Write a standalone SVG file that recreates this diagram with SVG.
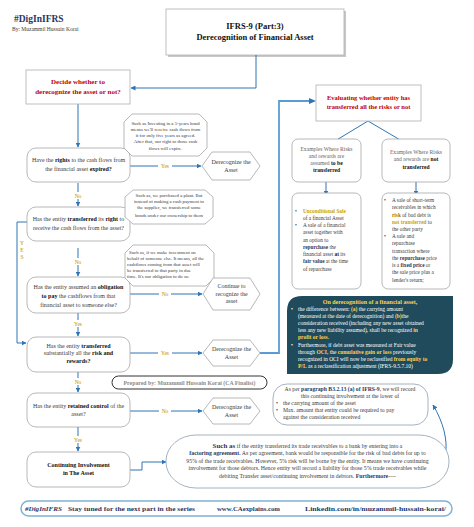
<svg xmlns="http://www.w3.org/2000/svg" width="474" height="527" viewBox="0 0 474 527">
<style>
text{font-family:"Liberation Serif","DejaVu Serif",serif;fill:#3a3a3a}
.b{font-weight:bold;fill:#111}
.q{font-size:6px;text-anchor:middle}
.n{font-size:4.8px;text-anchor:middle}
.box{fill:#fff;stroke:#a6a6a6;stroke-width:0.8}
.sq{fill:#fff;stroke:#b0b0b0;stroke-width:0.8}
.con{fill:none;stroke:#2e75b6;stroke-width:1}
.big{fill:none;stroke:#5b9bd5;stroke-width:1.8}
.lbl{font-size:5.5px;text-anchor:middle;fill:#bf9000}
.red{fill:#c00000;font-weight:bold;text-anchor:middle;font-size:7px}
.li{font-size:5.3px}
.db{fill:#1e3a5f;font-weight:bold}
.yl{fill:#c9a400;font-weight:bold}
.w{font-size:5.5px;fill:#fff}
.wy{fill:#ffd24d;font-weight:bold}
.wb{fill:#9fd3ff;font-weight:bold}
.ft{font-size:6.4px;font-weight:bold;fill:#1f3864}
</style>
<defs>
<marker id="ah" viewBox="0 0 10 10" refX="9" refY="5" markerWidth="5" markerHeight="5" orient="auto"><path d="M0,0 L10,5 L0,10 z" fill="#2e75b6"/></marker>
</defs>
<rect width="474" height="527" fill="#fff"/>

<g id="header">
<text x="14" y="22" style="font-size:9.5px;font-weight:bold;fill:#1f3864">#DigInIFRS</text>
<text x="12" y="31" style="font-size:5.5px">By: Muzammil Hussain Korai</text>
</g>

<g id="title">
<rect x="168" y="11" width="178" height="46" fill="#c8c8c8"/>
<rect x="166" y="9" width="178" height="46" class="sq"/>
<text x="255" y="29" class="b" style="font-size:8.5px;text-anchor:middle">IFRS-9 (Part:3)</text>
<text x="255" y="40" class="b" style="font-size:8.5px;text-anchor:middle">Derecognition of Financial Asset</text>
</g>

<g id="connectors">
<path class="con" d="M256 55 V88 H131" marker-end="url(#ah)"/>
<path class="con" d="M78 104 V147" marker-end="url(#ah)"/>
<path class="con" d="M130 166 H201" marker-end="url(#ah)"/>
<path class="con" d="M78 183 V206" marker-end="url(#ah)"/>
<path class="con" d="M27 222 H17 V343 H26" marker-end="url(#ah)"/>
<path class="con" d="M78 248 V276" marker-end="url(#ah)"/>
<path class="con" d="M130 294 H202" marker-end="url(#ah)"/>
<path class="con" d="M78 313 V336" marker-end="url(#ah)"/>
<path class="con" d="M130 353 H202" marker-end="url(#ah)"/>
<path class="con" d="M78 372 V392" marker-end="url(#ah)"/>
<path class="con" d="M130 411 H202" marker-end="url(#ah)"/>
<path class="con" d="M78 427 V451" marker-end="url(#ah)"/>
<path class="con" d="M130 470 H142 V462 H166" marker-end="url(#ah)"/>
<path class="big" d="M260 353 H279 V101 H313"/>
<path d="M309 98 L316 101 L309 104 z" fill="#2e75b6"/>
<path class="con" d="M368 121 L330 144" marker-end="url(#ah)"/>
<path class="con" d="M368 121 L407 144" marker-end="url(#ah)"/>
<path class="con" d="M326 182 V195" marker-end="url(#ah)"/>
<path class="con" d="M416 182 V195" marker-end="url(#ah)"/>
<path class="con" d="M419 477 C450 476 454 440 433 405" marker-end="url(#ah)"/>
<rect x="158" y="162" width="14" height="7" fill="#fff"/>
<text x="165" y="168" class="lbl">Yes</text>
<rect x="72" y="192" width="12" height="7" fill="#fff"/>
<text x="78" y="198" class="lbl">No</text>
<text x="22" y="245" class="lbl">Y</text>
<text x="22" y="252" class="lbl">E</text>
<text x="22" y="259" class="lbl">S</text>
<rect x="72" y="258" width="12" height="7" fill="#fff"/>
<text x="78" y="264" class="lbl">No</text>
<rect x="159" y="290" width="12" height="7" fill="#fff"/>
<text x="165" y="296" class="lbl">No</text>
<rect x="71" y="320" width="14" height="7" fill="#fff"/>
<text x="78" y="326" class="lbl">Yes</text>
<rect x="158" y="349" width="14" height="7" fill="#fff"/>
<text x="165" y="355" class="lbl">Yes</text>
<rect x="72" y="378" width="12" height="7" fill="#fff"/>
<text x="78" y="384" class="lbl">No</text>
<rect x="159" y="407" width="12" height="7" fill="#fff"/>
<text x="165" y="413" class="lbl">No</text>
<rect x="71" y="436" width="14" height="7" fill="#fff"/>
<text x="78" y="442" class="lbl">Yes</text>
</g>

<g id="decide">
<rect x="26" y="70" width="104" height="34" class="sq"/>
<text x="78" y="84" class="red">Decide whether to</text>
<text x="78" y="94" class="red">derecognize the asset or not?</text>
</g>

<g id="q1">
<rect x="27" y="148" width="103" height="34" rx="9" class="box"/>
<text x="78.5" y="162" class="q">Have the <tspan class="b">rights</tspan> to the cash flows from</text>
<text x="78.5" y="171" class="q">the financial asset <tspan class="b">expired?</tspan></text>
</g>
<g id="note1">
<path class="box" d="M132 114 H199 L207 122 V148 L199 156 H132 L124 148 V122 Z"/>
<text x="165.5" y="125" class="n">Such as Investing in a 5-years bond</text>
<text x="165.5" y="131" class="n">means we'll receive cash flows from</text>
<text x="165.5" y="137" class="n">it for only five years as agreed.</text>
<text x="165.5" y="143" class="n">After that, our right to those cash</text>
<text x="165.5" y="150" class="n">flows will expire.</text>
</g>
<g id="d1">
<path class="box" d="M202 166 L212 152 H250 L260 166 L250 180 H212 Z"/>
<text x="231" y="164" class="q">Derecognize the</text>
<text x="231" y="172" class="q">Asset</text>
</g>

<g id="q2">
<rect x="27" y="207" width="103" height="34" rx="9" class="box"/>
<text x="78.5" y="221" class="q">Has the entity <tspan class="b">transferred</tspan> its <tspan class="b">right</tspan> to</text>
<text x="78.5" y="230" class="q">receive the cash flows from the asset?</text>
</g>
<g id="note2">
<path class="box" d="M133 190 H205 L213 197 V217 L205 224 H133 L125 217 V197 Z"/>
<text x="169" y="197" class="n">Such as, we purchased a plant. But</text>
<text x="169" y="203" class="n">instead of making a cash payment to</text>
<text x="169" y="209" class="n">the supplier, we transferred some</text>
<text x="169" y="217" class="n">bonds under our ownership to them</text>
</g>

<g id="q3">
<rect x="27" y="277" width="103" height="36" rx="9" class="box"/>
<text x="78.5" y="289" class="q">Has the entity assumed an <tspan class="b">obligation</tspan></text>
<text x="78.5" y="298" class="q"><tspan class="b">to pay</tspan> the cashflows from that</text>
<text x="78.5" y="307" class="q">financial asset to someone else?</text>
</g>
<g id="note3">
<path class="box" d="M133 245 H206 L214 253 V278 L206 286 H133 L125 278 V253 Z"/>
<text x="129" y="254" class="n" style="text-anchor:start">Such as, if we make investment on</text>
<text x="127" y="260" class="n" style="text-anchor:start">behalf of someone else. It means, all the</text>
<text x="127" y="266" class="n" style="text-anchor:start">cashflows coming from that asset will</text>
<text x="127" y="272" class="n" style="text-anchor:start">be transferred to that party in due</text>
<text x="127" y="278" class="n" style="text-anchor:start">time. It's our obligation to do so.</text>
</g>
<g id="c1">
<path class="box" d="M203 294 L213 278 H250 L260 294 L250 310 H213 Z"/>
<text x="231.5" y="288" class="q">Continue to</text>
<text x="231.5" y="295.5" class="q">recognize the</text>
<text x="231.5" y="303" class="q">asset</text>
</g>

<g id="q4">
<rect x="27" y="337" width="103" height="35" rx="9" class="box"/>
<text x="78.5" y="348" class="q">Has the entity <tspan class="b">transferred</tspan></text>
<text x="78.5" y="355" class="q">substantially all the <tspan class="b">risk and</tspan></text>
<text x="78.5" y="363" class="q"><tspan class="b">rewards?</tspan></text>
</g>
<g id="d3">
<path class="box" d="M203 353 L213 340 H250 L260 353 L250 366 H213 Z"/>
<text x="231.5" y="351" class="q">Derecognize the</text>
<text x="231.5" y="359" class="q">Asset</text>
</g>

<g id="prepared">
<rect x="112" y="376" width="155" height="13" rx="6.5" fill="#fff" stroke="#333" stroke-width="1"/>
<text x="189.5" y="385" style="font-size:5.8px;font-weight:bold;fill:#8a8a8a;text-anchor:middle">Prepared by: Muzammil Hussain Korai (CA Finalist)</text>
</g>

<g id="q5">
<rect x="27" y="393" width="103" height="34" rx="9" class="box"/>
<text x="78.5" y="408" class="q">Has the entity <tspan class="b">retained control</tspan> of the</text>
<text x="78.5" y="416" class="q">asset?</text>
</g>
<g id="d4">
<path class="box" d="M203 411 L213 398 H250 L260 411 L250 424 H213 Z"/>
<text x="231.5" y="409" class="q">Derecognize the</text>
<text x="231.5" y="417" class="q">Asset</text>
</g>

<g id="q6">
<rect x="27" y="452" width="103" height="35" rx="9" class="box"/>
<text x="78.5" y="467" class="q b">Continuing Involvement</text>
<text x="78.5" y="475" class="q b">in The Asset</text>
</g>

<g id="bubble">
<rect x="166" y="435" width="283" height="53" rx="30" ry="26" fill="#fff" stroke="#9aaab8" stroke-width="0.9"/>
<text x="307.5" y="448" style="font-size:5.8px;text-anchor:middle"><tspan class="db" style="font-size:7px">Such as</tspan> if the entity transferred its trade receivables to a bank by entering into a</text>
<text x="307.5" y="455" style="font-size:5.8px;text-anchor:middle"><tspan class="db">factoring agreement</tspan>. As per agreement, bank would be responsible for the risk of bad debts for up to</text>
<text x="307.5" y="463" style="font-size:5.8px;text-anchor:middle">95% of the trade receivables. However, 5% risk will be borne by the entity. It means we have continuing</text>
<text x="307.5" y="470" style="font-size:5.8px;text-anchor:middle">involvement for those debtors. Hence entity will record a liability for those 5% trade receivables while</text>
<text x="307.5" y="478" style="font-size:5.8px;text-anchor:middle">debiting Transfer asset/continuing involvement in debtors.      <tspan class="db">Furthermore</tspan>----</text>
</g>

<g id="asper">
<rect x="273" y="384" width="155" height="41" rx="14" fill="#fff" stroke="#9aaab8" stroke-width="0.9"/>
<text x="350" y="391" style="font-size:5.7px;text-anchor:middle">As per <tspan class="db">paragraph B3.2.13 (a) of IFRS-9</tspan>, we will record</text>
<text x="350" y="398" style="font-size:5.7px;text-anchor:middle">this continuing involvement at the lower of</text>
<text x="276" y="405" style="font-size:5.7px">•</text>
<text x="283" y="405" style="font-size:5.7px">the carrying amount of the asset</text>
<text x="276" y="412" style="font-size:5.7px">•</text>
<text x="283" y="412" style="font-size:5.7px">Max. amount that entity could be required to pay</text>
<text x="283" y="419" style="font-size:5.7px">against the consideration received</text>
</g>

<g id="evaluate">
<rect x="316" y="85" width="105" height="36" class="sq"/>
<text x="368.5" y="100" class="red" style="font-size:6.5px">Evaluating whether entity has</text>
<text x="368.5" y="109" class="red" style="font-size:6.5px">transferred all the risks or not</text>
</g>

<g id="ex1">
<rect x="292" y="139" width="69" height="43" rx="6" class="box"/>
<text x="326.5" y="151" class="q" style="font-size:5.6px;fill:#666">Examples Where Risks</text>
<text x="326.5" y="158" class="q" style="font-size:5.6px;fill:#666">and rewards are</text>
<text x="326.5" y="165" class="q" style="font-size:5.6px;fill:#666">assumed <tspan class="b">to be</tspan></text>
<text x="326.5" y="172" class="q b" style="font-size:5.6px">transferred</text>
</g>
<g id="ex2">
<rect x="382" y="139" width="68" height="43" rx="6" class="box"/>
<text x="416" y="154" class="q" style="font-size:5.6px;fill:#666">Examples Where Risks</text>
<text x="416" y="161" class="q" style="font-size:5.6px;fill:#666">and rewards are <tspan class="b">not</tspan></text>
<text x="416" y="169" class="q b" style="font-size:5.6px">transferred</text>
</g>

<g id="list1">
<rect x="292" y="193" width="69" height="96" rx="6" class="box"/>
<text x="295" y="213" class="li">•</text>
<text x="303" y="213" class="li yl">Unconditional Sale</text>
<text x="303" y="220" class="li">of a financial Asset</text>
<text x="295" y="227" class="li">•</text>
<text x="303" y="227" class="li">A sale of a financial</text>
<text x="303" y="234" class="li">asset together with</text>
<text x="303" y="242" class="li">an option to</text>
<text x="303" y="249" class="li"><tspan class="db">repurchase</tspan> the</text>
<text x="303" y="256" class="li">financial asset <tspan class="b">at</tspan> its</text>
<text x="303" y="263" class="li"><tspan class="db">fair value</tspan> at the time</text>
<text x="303" y="271" class="li">of repurchase</text>
</g>
<g id="list2">
<rect x="382" y="193" width="68" height="96" rx="6" class="box"/>
<text x="384" y="202" class="li">•</text>
<text x="392" y="202" class="li">A sale of short-term</text>
<text x="392" y="209" class="li">receivables in which</text>
<text x="392" y="217" class="li"><tspan class="yl" style="fill:#a07800">risk</tspan> of bad debt is</text>
<text x="392" y="224" class="li"><tspan class="yl">not transferred</tspan> to</text>
<text x="392" y="231" class="li">the other party</text>
<text x="384" y="238" class="li">•</text>
<text x="392" y="238" class="li">A sale and</text>
<text x="392" y="245" class="li">repurchase</text>
<text x="392" y="253" class="li">transaction where</text>
<text x="392" y="260" class="li">the <tspan class="db">repurchase</tspan> price</text>
<text x="392" y="267" class="li">is a <tspan class="db">fixed price</tspan> or</text>
<text x="392" y="274" class="li">the sale price plus a</text>
<text x="392" y="282" class="li">lender's return;</text>
</g>

<g id="derecog">
<path d="M302 296 H453 V359 Q453 374 438 374 H287 V311 Q287 296 302 296 Z" fill="#1f4b5c"/>
<text x="370" y="304" class="w wy" style="text-anchor:middle;font-size:6px">On derecognition of a financial asset,</text>
<text x="291" y="311" class="w">•</text>
<text x="298" y="311" class="w">the difference between: <tspan class="wy">(a)</tspan> the carrying amount</text>
<text x="298" y="318" class="w">(measured at the date of derecognition) and <tspan class="wy">(b)</tspan>the</text>
<text x="298" y="325" class="w">consideration received (including any new asset obtained</text>
<text x="298" y="332" class="w">less any new liability assumed), shall be recognized <tspan class="wy">in</tspan></text>
<text x="298" y="339" class="w"><tspan class="wy">profit or loss.</tspan></text>
<text x="291" y="347" class="w">•</text>
<text x="298" y="347" class="w">Furthermore, <tspan class="wb">if</tspan> debt asset was measured at Fair value</text>
<text x="298" y="354" class="w">through <tspan class="wy">OCI</tspan>, the <tspan class="wy">cumulative gain or loss</tspan> previously</text>
<text x="298" y="361" class="w">recognized in OCI will now be reclassified <tspan class="wy">from equity to</tspan></text>
<text x="298" y="368" class="w"><tspan class="wy">P/L</tspan> as a reclassification adjustment (IFRS-9.5.7.10)</text>
</g>

<g id="footer">
<rect x="21" y="501" width="431" height="15" rx="7.5" fill="#fff" stroke="#7fb2d0" stroke-width="1.5"/>
<text x="25" y="511" class="ft" style="font-size:6.2px;font-style:italic" textLength="37" lengthAdjust="spacingAndGlyphs">#DigInIFRS</text>
<text x="68" y="511" class="ft" textLength="127" lengthAdjust="spacingAndGlyphs">Stay tuned for the next part in the series</text>
<text x="217" y="511" class="ft" textLength="63" lengthAdjust="spacingAndGlyphs">www.CAexplains.com</text>
<text x="305" y="511" class="ft" textLength="141" lengthAdjust="spacingAndGlyphs">Linkedin.com/in/muzammil-hussain-korai/</text>
</g>
</svg>
